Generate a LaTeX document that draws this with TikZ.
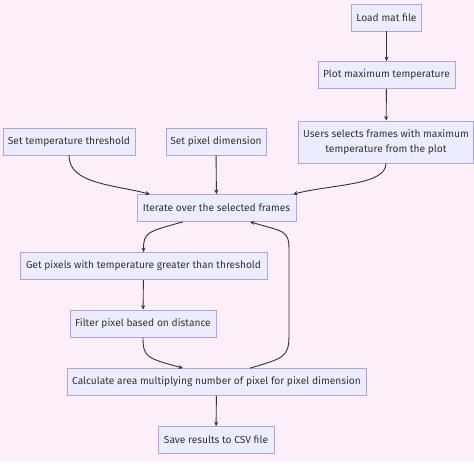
\documentclass[tikz,border=0pt]{standalone}
\usepackage{fontspec}
\setmainfont{Fira Sans}
\usetikzlibrary{arrows.meta}
\definecolor{bgpink}{HTML}{FCEFF9}
\definecolor{boxfill}{HTML}{ECECFF}
\definecolor{boxline}{HTML}{B4A3E4}
\definecolor{txt}{HTML}{333333}
\tikzset{
  box/.style={draw=boxline, fill=boxfill, text=txt, line width=0.7pt,
    font=\fontsize{10.2}{15.5}\selectfont, inner sep=0pt, minimum height=27pt, align=center},
  arr/.style={draw=txt, line width=0.9pt, -{Stealth[length=4.5pt,width=4pt]}}
}
\begin{document}
\begin{tikzpicture}[x=1pt,y=-1pt]
\useasboundingbox (0,0) rectangle (474,474);
\fill[bgpink] (0,0) rectangle (474,462);
% the boxes
\node[box, minimum width=70pt] (load) at (386.5,17.5) {Load mat file};
\node[box, minimum width=137pt] (plot) at (386.5,75) {Plot maximum temperature};
\node[box, minimum width=175pt, minimum height=42pt] (usr) at (386,142) {Users selects frames with maximum\\temperature from the plot};
\node[box, minimum width=132pt] (thr) at (69,141.5) {Set temperature threshold};
\node[box, minimum width=100pt] (pix) at (216,141.5) {Set pixel dimension};
\node[box, minimum width=159pt] (iter) at (216.5,208) {Iterate over the selected frames};
\node[box, minimum width=247pt] (get) at (143.5,266) {Get pixels with temperature greater than threshold};
\node[box, minimum width=146pt] (filt) at (143,323.5) {Filter pixel based on distance};
\node[box, minimum width=299pt] (calc) at (216.5,382) {Calculate area multiplying number of pixel for pixel dimension};
\node[box, minimum width=116pt] (save) at (216,440) {Save results to CSV file};
% loop back
\coordinate (loopa) at (289,335);
\coordinate (loopb) at (289,250);
% edges
\draw[arr] (load) -- (plot);
\draw[arr] (plot) -- (usr);
\draw[arr] (pix) -- (iter);
\draw[arr] (thr.south) .. controls +(0,28) and +(-40,-10) .. ([xshift=-66.5pt]iter.north);
\draw[arr] (usr.south) .. controls +(0,22) and +(40,-10) .. ([xshift=76.5pt]iter.north);
\draw[arr] ([xshift=-33.5pt]iter.south) .. controls +(-36,10) and +(0,-20) .. (get.north);
\draw[arr] (get) -- (filt);
\draw[arr] (filt.south) .. controls +(0,20) and +(-36,-10) .. ([xshift=-33.5pt]calc.north);
\draw[arr] ([xshift=33.5pt]calc.north) .. controls +(34,-10) and +(0,22) .. (loopa) -- (loopb)
  .. controls +(0,-20) and +(34,10) .. ([xshift=33.5pt]iter.south);
\draw[arr] (calc) -- (save);
\end{tikzpicture}
\end{document}
